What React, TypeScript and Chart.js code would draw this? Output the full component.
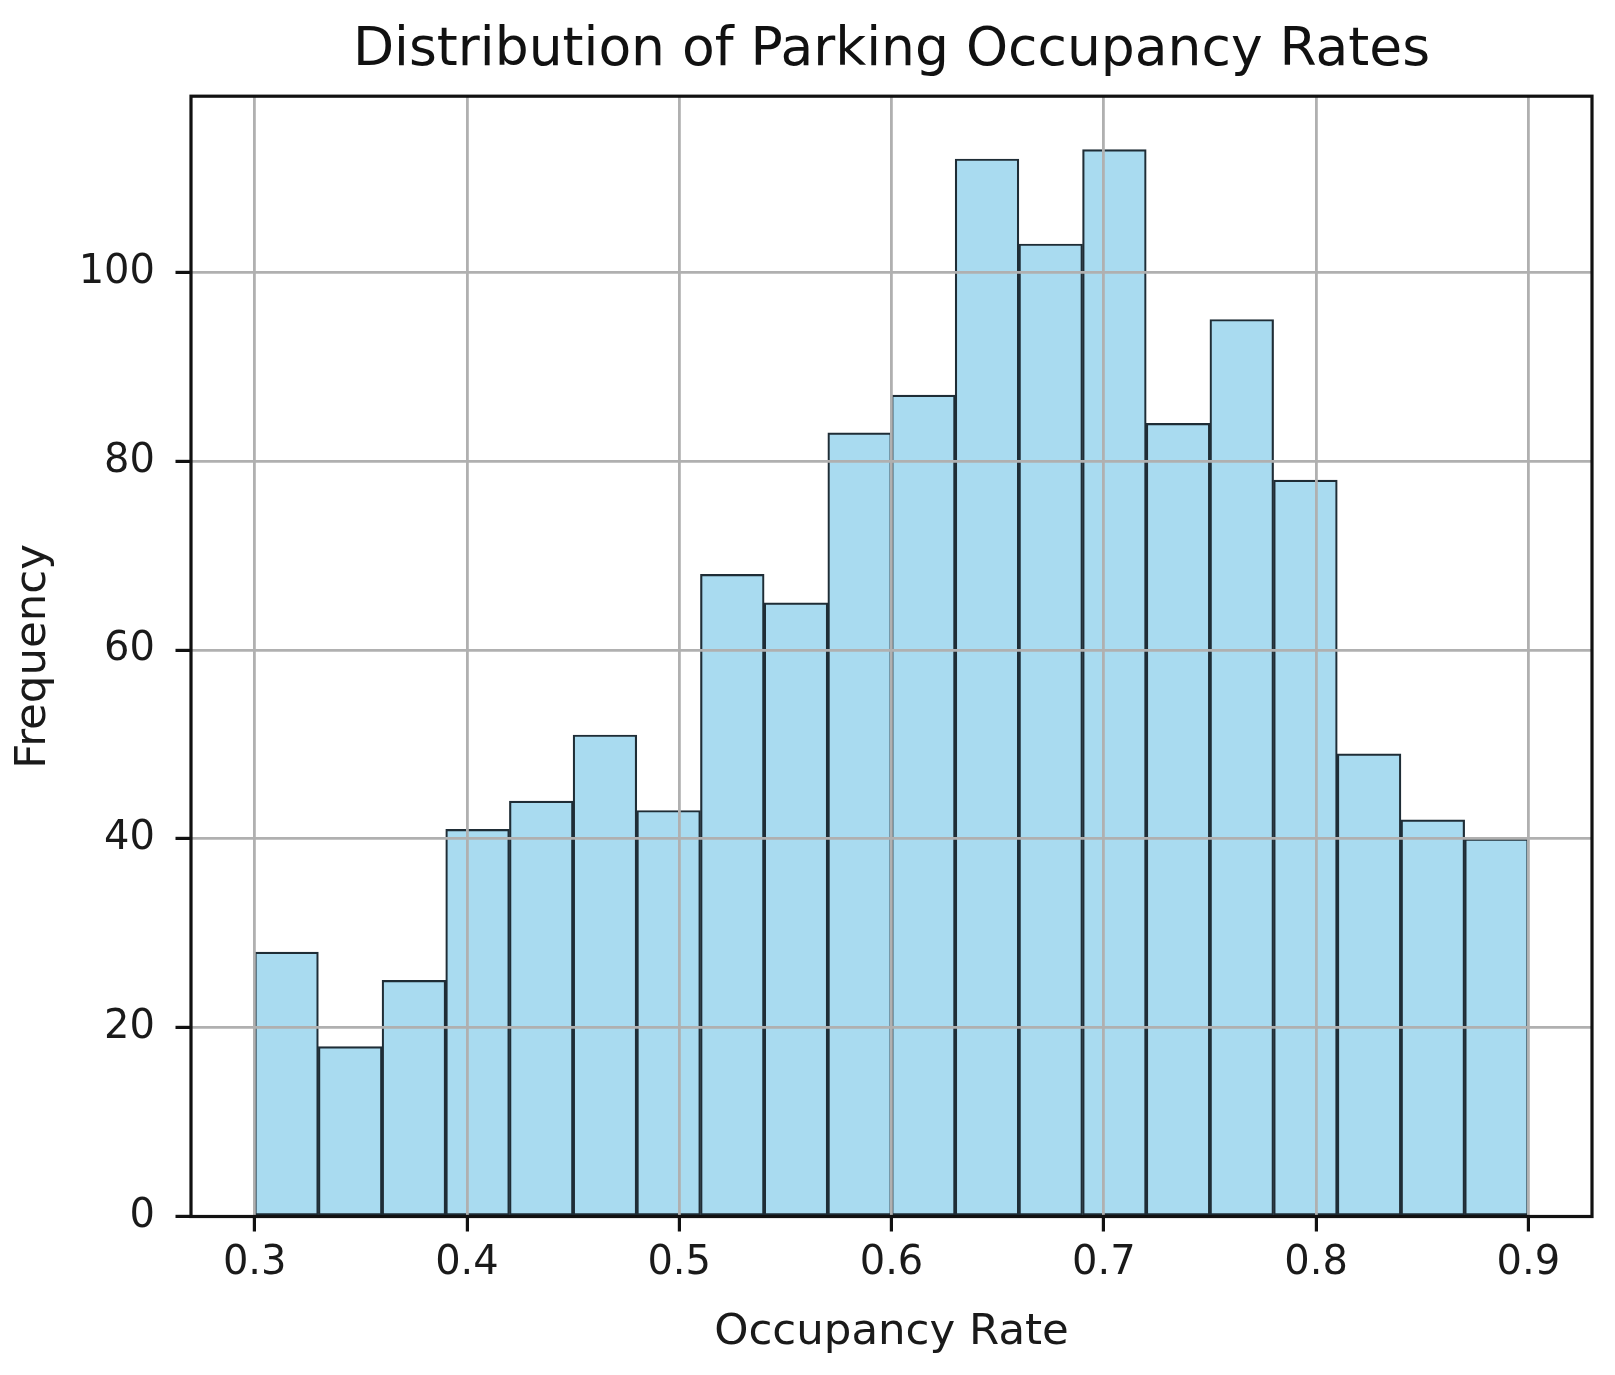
import React, { useEffect, useRef } from "react";
import { Chart, registerables } from "chart.js";

Chart.register(...registerables);

const TITLE = "Distribution of Parking Occupancy Rates";
const X_LABEL = "Occupancy Rate";
const Y_LABEL = "Frequency";

const binEdges = [
  0.3, 0.33, 0.36, 0.39, 0.42, 0.45, 0.48, 0.51, 0.54, 0.57, 0.6, 0.63, 0.66,
  0.69, 0.72, 0.75, 0.78, 0.81, 0.84, 0.87, 0.9,
];
const counts = [
  28, 18, 25, 41, 44, 51, 43, 68, 65, 83, 87, 112, 103, 113, 84, 95, 78, 49, 42, 40,
];

const xMin = 0.27;
const xMax = 0.93;
const xStep = 0.1;
const yMin = 0;
const yMax = 118.65;
const yStep = 20;

const FONT = "'DejaVu Sans', sans-serif";
const W = 1615;
const H = 1375;

const framePlugin = {
  id: "frame",
  afterDraw(chart: any) {
    const { ctx, chartArea } = chart;
    ctx.save();
    ctx.strokeStyle = "#111111";
    ctx.lineWidth = 3.2;
    ctx.strokeRect(
      chartArea.left,
      chartArea.top,
      chartArea.right - chartArea.left,
      chartArea.bottom - chartArea.top
    );
    ctx.restore();
  },
};

export default function App() {
  const canvasRef = useRef<HTMLCanvasElement | null>(null);

  useEffect(() => {
    document.body.style.margin = "0";
    const canvas = canvasRef.current;
    if (!canvas) return;
    const data = counts.map((c, i) => ({
      x: (binEdges[i] + binEdges[i + 1]) / 2,
      y: c,
    }));
    const chart = new Chart(canvas, {
      type: "bar",
      data: {
        datasets: [
          {
            data: data as any,
            backgroundColor: "#a9dbf0",
            borderColor: "#1f2d36",
            borderWidth: 2.2,
            borderSkipped: false,
            barPercentage: 1,
            categoryPercentage: 1,
          },
        ],
      },
      options: {
        responsive: false,
        devicePixelRatio: 1,
        animation: false,
        layout: { padding: { left: 0, right: 23, top: 0, bottom: 0 } },
        plugins: {
          legend: { display: false },
          tooltip: { enabled: false },
          title: {
            display: true,
            fullSize: false,
            text: TITLE,
            color: "#111111",
            font: { family: FONT, size: 53.5, weight: "normal", lineHeight: 1.2 },
            padding: { top: 19, bottom: 13 },
          },
        },
        scales: {
          x: {
            type: "linear",
            min: xMin,
            max: xMax,
            offset: false,
            grid: {
              offset: false,
              color: "#b0b0b0",
              lineWidth: 2.8,
              z: 1,
              drawTicks: true,
              tickLength: 15,
              tickColor: "#111111",
              tickWidth: 3.2,
            },
            border: { display: false },
            ticks: {
              stepSize: xStep,
              includeBounds: false,
              autoSkip: false,
              maxRotation: 0,
              padding: 8.5,
              color: "#1a1a1a",
              font: { family: FONT, size: 40, lineHeight: 1.2 },
              callback: (v: any) => Number(v).toFixed(1),
            },
            title: {
              display: true,
              text: X_LABEL,
              color: "#1a1a1a",
              font: { family: FONT, size: 43.5, lineHeight: 1.2 },
              padding: { top: 0, bottom: 16 },
            },
            afterFit: (s: any) => {
              s.height = 158.5;
            },
          },
          y: {
            type: "linear",
            min: yMin,
            max: yMax,
            grid: {
              color: "#b0b0b0",
              lineWidth: 2.8,
              z: 1,
              drawTicks: true,
              tickLength: 15.5,
              tickColor: "#111111",
              tickWidth: 3.2,
            },
            border: { display: false },
            ticks: {
              stepSize: yStep,
              includeBounds: false,
              padding: 20.5,
              color: "#1a1a1a",
              font: { family: FONT, size: 40, lineHeight: 1.2 },
            },
            title: {
              display: true,
              text: Y_LABEL,
              color: "#1a1a1a",
              font: { family: FONT, size: 43.5, lineHeight: 1.2 },
              padding: { top: 8, bottom: 0 },
            },
            afterFit: (s: any) => {
              s.width = 191;
            },
          },
        },
      },
      plugins: [framePlugin],
    });
    return () => chart.destroy();
  }, []);

  return (
    <div style={{ position: "absolute", left: 0, top: 0, width: W, height: H }}>
      <canvas ref={canvasRef} width={W} height={H} style={{ width: W, height: H }} />
    </div>
  );
}
